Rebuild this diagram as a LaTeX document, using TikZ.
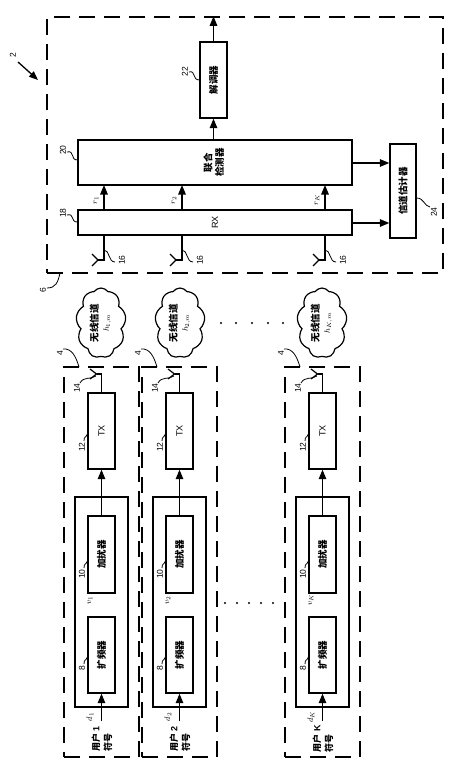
\documentclass[tikz,border=0pt]{standalone}
\usepackage{fontspec}
\usepackage{graphicx}
\setmainfont{Liberation Sans}
\newfontfamily\cjk{Noto Sans CJK SC}
\usetikzlibrary{arrows.meta,shapes.symbols,calc}
\begin{document}
\begin{tikzpicture}[x=1pt,y=-1pt,line width=1.2pt,
  blk/.style={draw,line width=1.3pt,inner sep=0pt,font=\cjk\bfseries\fontsize{9.5pt}{11pt}\selectfont},
  dbox/.style={draw,dash pattern=on 16pt off 9pt,line width=1.4pt,inner sep=0pt},
  lbl/.style={rotate=90,inner sep=0pt,font=\fontsize{8.5pt}{10pt}\selectfont},
  sub/.style={rotate=90,inner sep=0pt,font=\fontsize{8pt}{9pt}\selectfont},
  lead/.style={line width=0.8pt},
  arr/.style={-{Triangle[length=9.5pt,width=7.5pt]},line width=1.3pt},
  chan/.style={cloud,draw,cloud puffs=9,cloud puff arc=110,cloud ignores aspect,minimum width=50pt,minimum height=70pt,line width=1.2pt,inner sep=0pt}]
\path[use as bounding box] (0,0) rectangle (474,762);

% ---------------- receiver ----------------
\node[dbox,minimum width=396pt,minimum height=256pt] (rcv) at (245,145) {};
\node[blk,minimum width=27pt,minimum height=76pt] (dem) at (213.5,80) {\rotatebox{90}{解调器}};
\node[blk,minimum width=274pt,minimum height=45pt] (det) at (215,162.5) {\rotatebox{90}{\begin{tabular}{@{}c@{}}联合\\检测器\end{tabular}}};
\node[blk,minimum width=274pt,minimum height=25pt,font=\fontsize{9pt}{10pt}\selectfont] (rx) at (215,222.5) {\rotatebox{90}{RX}};
\node[blk,minimum width=26pt,minimum height=94pt] (est) at (403,191) {\rotatebox{90}{信道估计器}};

\draw[arr] (dem.south |- det.north) -- (dem.south);
\coordinate (out) at (dem.north |- rcv.north);
\draw[arr] (dem.north) -- (out);
\draw[arr] (det.east |- 0,163) -- (est.west |- 0,163);
\draw[arr] (rx.east |- 0,223) -- (est.west |- 0,223);

\foreach \x/\r in {104/1,182/2,325/K}{
  \draw[arr] (\x,210) -- (\x,185);
  \node[sub] at (\x-8,200) {$r_{\r}$};
  \draw (\x,235) -- (\x,260) -- (\x-6,260);
  \draw (\x-12,254) -- (\x-6,260) -- (\x-12,266);
  \draw[lead] (\x,250) .. controls (\x+6,250) and (\x+4,262) .. (\x+11,262);
  \node[lbl] at (\x+18,260) {16};
}

\node[lbl] (n22) at (185,72) {22};
\draw[lead] (189,72) .. controls (196,70) and (192,80) .. (dem.west |- 0,80);
\node[lbl] (n20) at (63,150) {20};
\draw[lead] (67,152) .. controls (75,150) and (70,160) .. (det.west |- 0,160);
\node[lbl] (n18) at (63,213) {18};
\draw[lead] (67,215) .. controls (75,213) and (70,222) .. (rx.west |- 0,222);
\node[lbl] (n24) at (434,212) {24};
\draw[lead] (est.east |- 0,198) .. controls (424,198) and (424,206) .. (430,207);

\node[lbl] (n2) at (13,55) {2};
\draw[-{Triangle[length=9pt,width=7pt]},line width=1.3pt] (18,62) -- (38,80);
\node[lbl] (n6) at (43,290) {6};
\draw[lead] (47,288) .. controls (56,288) and (58,282) .. (60,273);

% ---------------- channels ----------------
\foreach \o/\s in {0/1,79/2,221/K}{
  \node[chan] (ch\s) at (101+\o,323) {\rotatebox{90}{\begin{tabular}{@{}c@{}}{\cjk\bfseries\fontsize{9.5pt}{11pt}\selectfont 无线信道}\\[-1pt]{\fontsize{8pt}{9pt}\selectfont$h_{\s,m}$}\end{tabular}}};
}
\foreach \x in {221,236,252,268,283} \fill (\x,323) circle (1.1);
\foreach \x in {225,237,249,261,273} \fill (\x,603) circle (1.1);

% ---------------- users ----------------
\foreach \o/\s in {0/1,78/2,221/K}{
  \node[dbox,minimum width=75pt,minimum height=390pt] (ub\s) at (101.5+\o,562) {};
  \node[draw,line width=1.3pt,minimum width=53pt,minimum height=210pt,inner sep=0pt] (grp\s) at (101.5+\o,602) {};
  \node[blk,minimum width=27pt,minimum height=76pt,font=\fontsize{9pt}{10pt}\selectfont] (tx\s) at (101.5+\o,431) {\rotatebox{90}{TX}};
  \node[blk,minimum width=27pt,minimum height=77pt] (scr\s) at (101.5+\o,554.5) {\rotatebox{90}{加扰器}};
  \node[blk,minimum width=27pt,minimum height=76pt] (spr\s) at (101.5+\o,655) {\rotatebox{90}{扩频器}};
  \draw[arr] (scr\s.north) -- (tx\s.south);
  \coordinate (in\s) at (101.5+\o,721);
  \draw[arr] (in\s) -- (spr\s.south);
  \node[inner sep=0pt] (usr\s) at (103+\o,739) {\rotatebox{90}{\begin{tabular}{@{}l@{}}{\cjk\bfseries\fontsize{9pt}{10pt}\selectfont 用户} \textbf{\fontsize{9pt}{10pt}\selectfont\s}\\{\cjk\bfseries\fontsize{9pt}{10pt}\selectfont 符号}\end{tabular}}};
  \node[sub] at (90+\o,717) {$d_{\s}$};
  \node[sub] at (90+\o,600) {$v_{\s}$};
  % antenna
  \draw (tx\s.north) -- (101.5+\o,374) -- (96.5+\o,374);
  \draw (90+\o,369) -- (96.5+\o,374) -- (90+\o,379);
  % labels
  \node[lbl] at (77+\o,388) {14};
  \draw[lead] (80+\o,383) .. controls (84+\o,376) and (90+\o,380) .. (96+\o,376);
  \node[lbl] at (60+\o,353) {4};
  \draw[lead] (63+\o,349) .. controls (72+\o,348) and (76+\o,357) .. (79+\o,367);
  \node[lbl] at (82+\o,447) {12};
  \draw[lead] (84+\o,441) .. controls (84+\o,436) and (86+\o,438) .. (tx\s.west |- 0,434);
  \node[lbl] at (82+\o,574) {10};
  \draw[lead] (84+\o,568) .. controls (84+\o,563) and (86+\o,565) .. (scr\s.west |- 0,561);
  \node[lbl] at (82+\o,668) {8};
  \draw[lead] (84+\o,664) .. controls (84+\o,659) and (86+\o,661) .. (spr\s.west |- 0,657);
}
\end{tikzpicture}
\end{document}
